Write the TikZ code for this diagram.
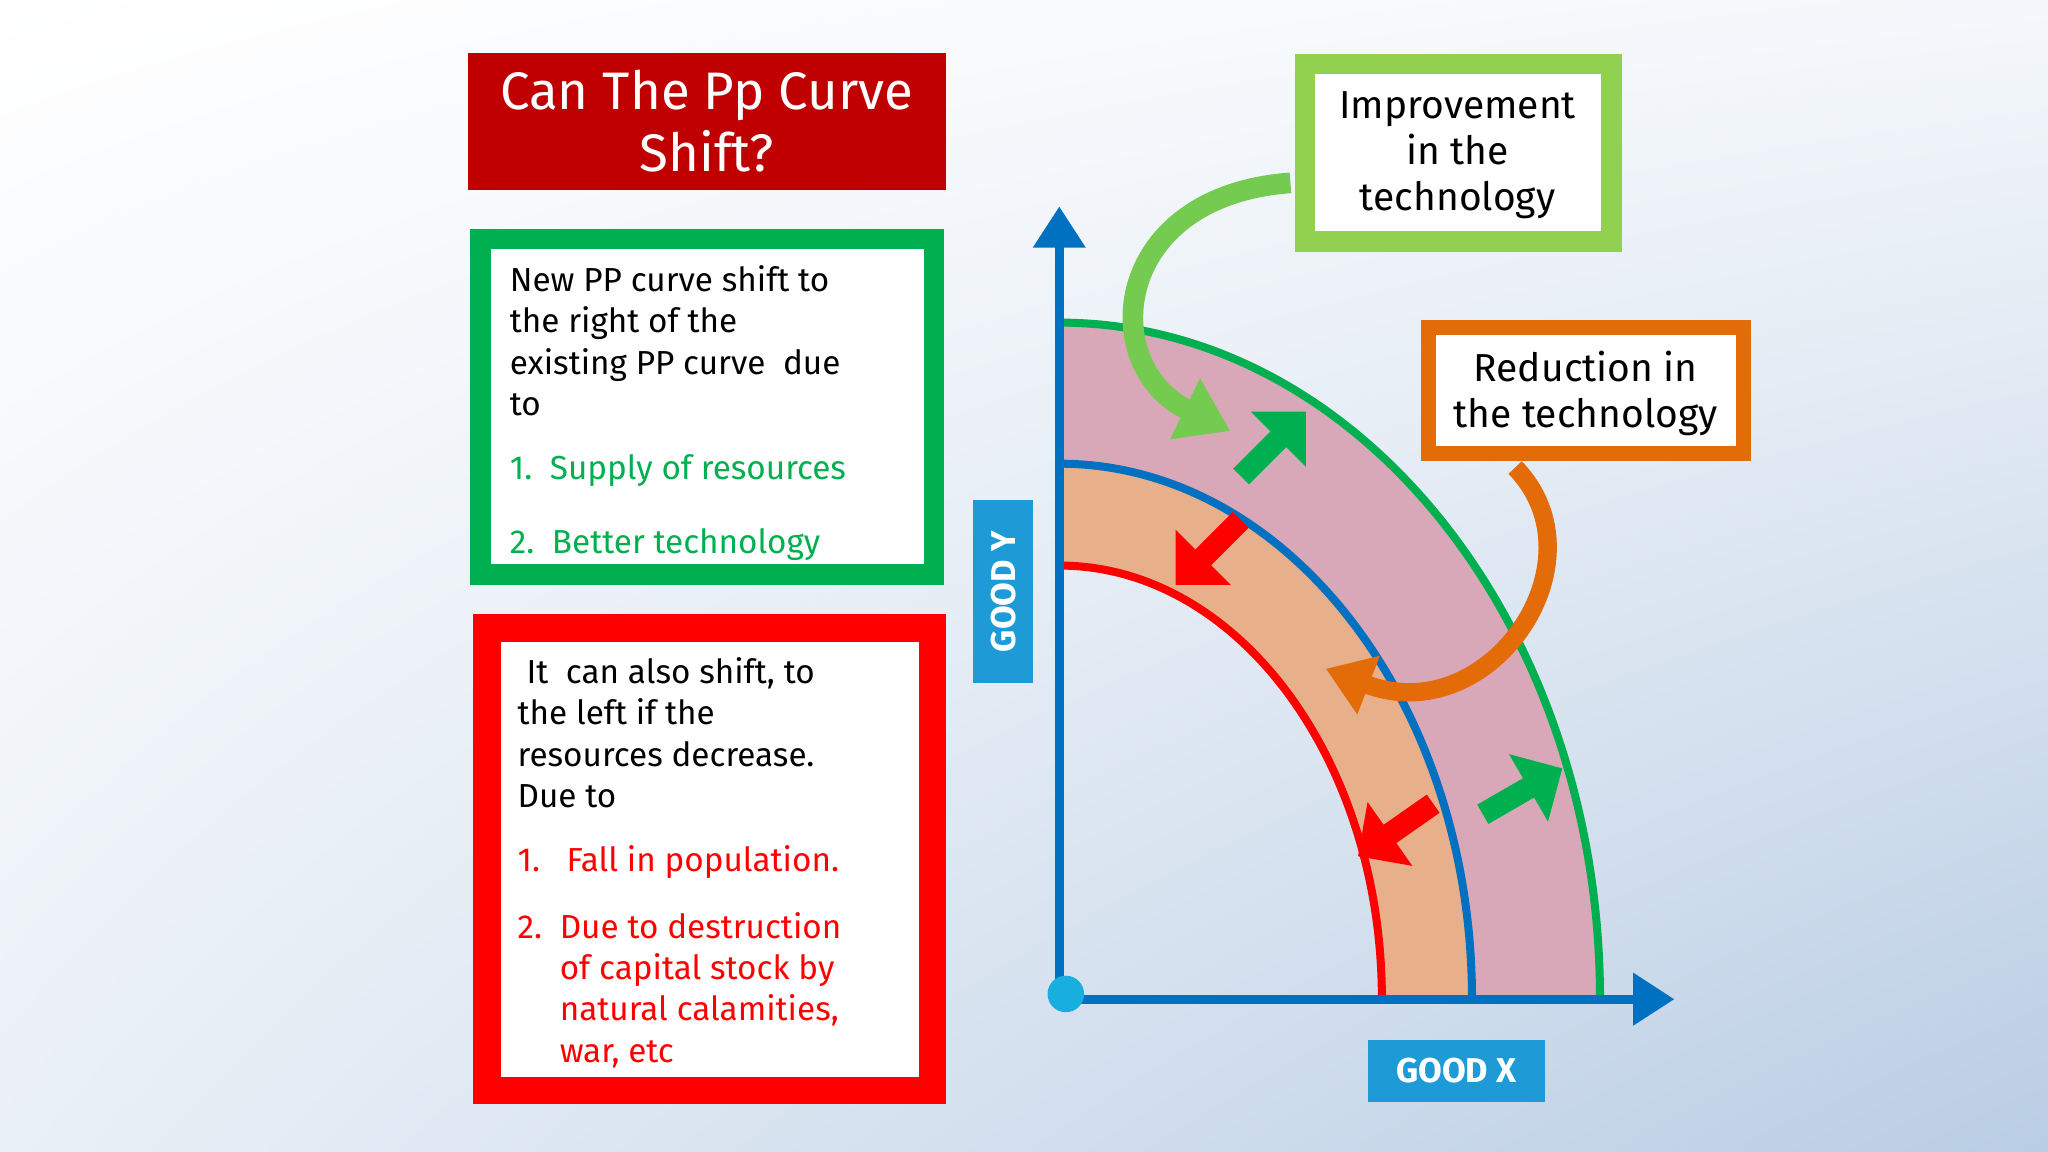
\documentclass[tikz,border=0pt]{standalone}
\usepackage{fontspec}
\setmainfont{Fira Sans}
\usetikzlibrary{arrows.meta,shapes.arrows,shadings}
\definecolor{bgb}{HTML}{B9CDE4}
\definecolor{tred}{HTML}{C00000}
\definecolor{gr}{HTML}{00B050}
\definecolor{lg}{HTML}{92D050}
\definecolor{org}{HTML}{E36C09}
\definecolor{ax}{HTML}{0070C0}
\definecolor{lab}{HTML}{1E9BD7}
\definecolor{pinkf}{HTML}{D9A8B8}
\definecolor{orf}{HTML}{E8B08A}
\tikzset{
  txt/.style={align=left,anchor=north west,inner sep=0pt,font=\fontsize{14.5}{18}\selectfont},
  blk/.style={single arrow,minimum height=40,minimum width=34,single arrow head extend=8,inner sep=3pt},
}
\begin{document}
\begin{tikzpicture}[x=0.02cm,y=-0.02cm]
\useasboundingbox (0,0) rectangle (1568,882);
\shade[upper left=white,upper right=white!85!bgb,lower left=white!70!bgb,lower right=bgb] (0,0) rectangle (1568,882);
% title
\node[fill=tred,minimum width=366*0.02cm,minimum height=105*0.02cm,text=white,align=center,font=\fontsize{23}{27}\selectfont] (title) at (541,93) {Can The Pp Curve\\Shift?};
% green box
\draw[gr,line width=9pt,fill=white] (368,183) rectangle (715,440);
\node[txt] (g1) at (390,203) {New PP curve shift to\\the right of the\\existing PP curve~~due\\to};
\node[txt,text=gr] (g2) at (390,348) {1.~~Supply of resources\\[14pt]2.~~Better technology};
% red box
\draw[red,line width=12pt,fill=white] (373,481) rectangle (714,835);
\node[txt] (r1) at (396,503) {~It~~can also shift, to\\the left if the\\resources decrease.\\Due to};
\node[txt,text=red] (r2) at (396,647) {1.~~~Fall in population.};
\node[txt,text=red,align=left] (r3) at (396,698) {2.~~Due to destruction\\\phantom{2.~~}of capital stock by\\\phantom{2.~~}natural calamities,\\\phantom{2.~~}war, etc};
% fills
\fill[pinkf] (811,247) arc[start angle=-90,end angle=0,x radius=414,y radius=518] -- (1127,765) arc[start angle=0,end angle=-90,x radius=316,y radius=410] -- cycle;
\fill[orf] (811,355) arc[start angle=-90,end angle=0,x radius=316,y radius=410] -- (1058,765) arc[start angle=0,end angle=-90,x radius=247,y radius=332] -- cycle;
\draw[gr,line width=3.5pt] (811,247) arc[start angle=-90,end angle=0,x radius=414,y radius=518];
\draw[ax,line width=3.5pt] (811,355) arc[start angle=-90,end angle=0,x radius=316,y radius=410];
\draw[red,line width=3.5pt] (811,433) arc[start angle=-90,end angle=0,x radius=247,y radius=332];
% axes
\coordinate (o) at (811,765);
\coordinate (ytop) at (811,158);
\coordinate (xend) at (1282,765);
\draw[ax,line width=4pt,-{Triangle[width=22pt,length=18pt]}] (o) -- (ytop);
\draw[ax,line width=4pt,-{Triangle[width=22pt,length=18pt]}] (o) -- (xend);
\fill[lab!80!cyan] (816,761) circle (14);
\node[fill=lab,minimum width=140*0.02cm,minimum height=46*0.02cm,rotate=90,text=white,font=\bfseries\fontsize{15}{18}\selectfont,inner sep=0pt] (gy) at (768,453) {GOOD Y};
\node[fill=lab,minimum width=136*0.02cm,minimum height=47*0.02cm,text=white,font=\bfseries\fontsize{15}{18}\selectfont] (gx) at (1115,820) {GOOD X};
% label boxes
\draw[lg,line width=9pt,fill=white] (999,49) rectangle (1234,185);
\node[align=center,font=\fontsize{17}{20}\selectfont] (imp) at (1116,119) {Improvement\\in the\\technology};
\draw[org,line width=6.5pt,fill=white] (1094,251) rectangle (1335,347);
\node[align=center,font=\fontsize{17}{20}\selectfont] (red) at (1214,301) {Reduction in\\the technology};
% curved arrows
\coordinate (ia) at (988,140);
\coordinate (ib) at (942,330);
\draw[lg!80!gr,line width=9pt,-{Triangle[width=28pt,length=22pt]}] (ia) .. controls (850,150) and (840,280) .. (ib);
\coordinate (ra) at (1160,358);
\coordinate (rb) at (1015,512);
\draw[org,line width=8pt,-{Triangle[width=26pt,length=20pt]}] (ra) .. controls (1230,430) and (1140,560) .. (rb);
% block arrows
\node[blk,fill=gr,rotate=45] (b1) at (972,343) {};
\node[blk,fill=gr,rotate=30] (b2) at (1162,608) {};
\node[blk,fill=red,rotate=-135] (b3) at (928,420) {};
\node[blk,fill=red,rotate=-145] (b4) at (1072,633) {};
\end{tikzpicture}
\end{document}
